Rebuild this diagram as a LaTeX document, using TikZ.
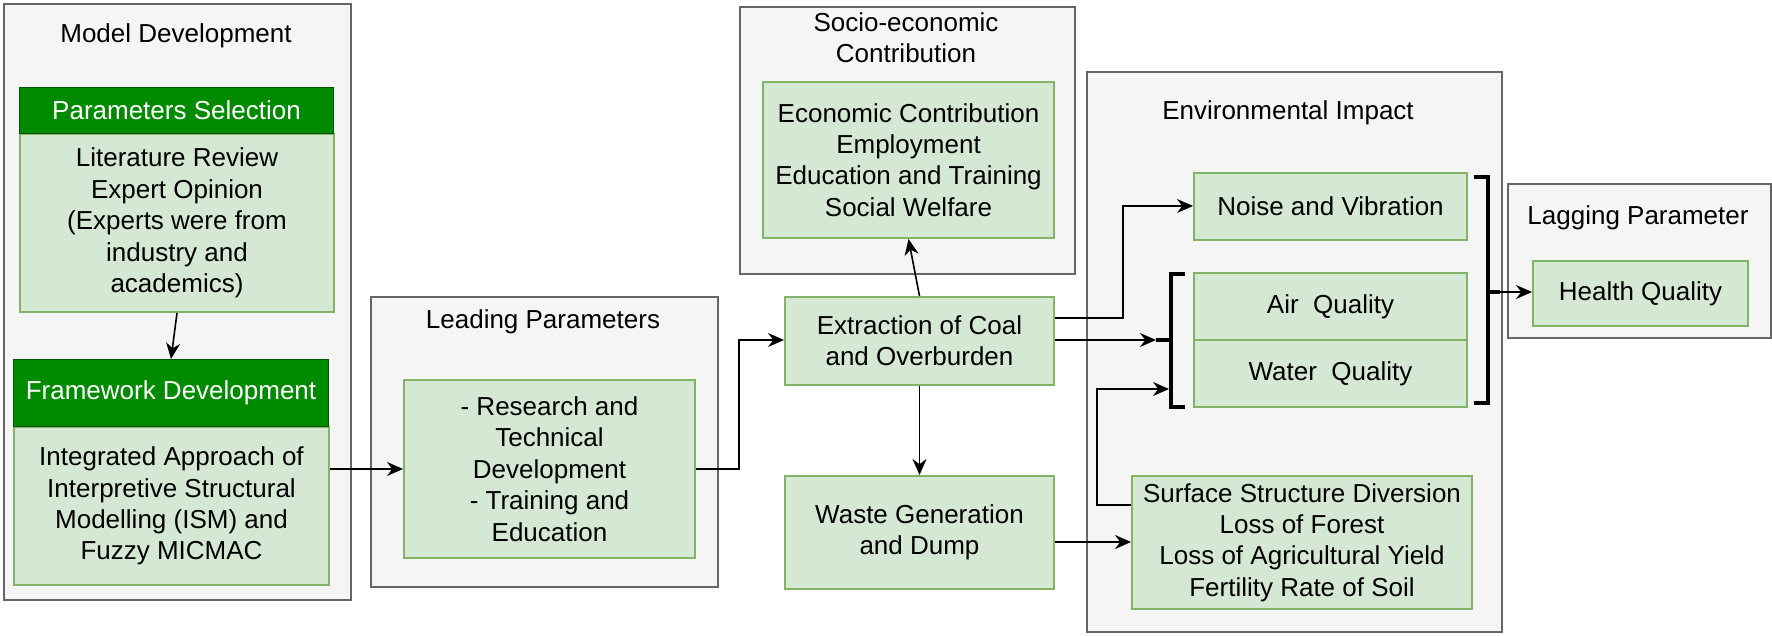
\documentclass[tikz,border=0pt]{standalone}
\usepackage{fontspec}
\setmainfont{Liberation Sans}
\usetikzlibrary{arrows.meta}
\definecolor{outerfill}{HTML}{F5F5F5}
\definecolor{outerdraw}{HTML}{666666}
\definecolor{gfill}{HTML}{D5E8D4}
\definecolor{gdraw}{HTML}{82B366}
\definecolor{hfill}{HTML}{008A00}
\definecolor{hdraw}{HTML}{005700}
\tikzset{
  outer/.style={draw=outerdraw,fill=outerfill,line width=2pt,anchor=north west,inner sep=0pt},
  gbox/.style={draw=gdraw,fill=gfill,line width=2pt,anchor=north west,inner sep=0pt},
  hbox/.style={draw=hdraw,fill=hfill,line width=1pt,anchor=north west,inner sep=0pt},
  txt/.style={align=center,font=\fontsize{26}{31.4}\selectfont},
  arr/.style={line width=1.6pt,-{Stealth[length=16pt,width=14pt]}},
  brk/.style={line width=4.5pt}
}
\newcommand{\bx}[6]{\node[#1,minimum width=#4pt-#2pt,minimum height=#5pt-#3pt] (#6) at (#2pt,-#3pt) {};}
\begin{document}
\begin{tikzpicture}[x=1pt,y=1pt]
\useasboundingbox (0,0) rectangle (1772,-635);
% outer boxes
\bx{outer}{3}{3}{350}{599}{md}
\bx{outer}{370}{296}{717}{586}{lp}
\bx{outer}{739}{6}{1074}{273}{se}
\bx{outer}{1086}{71}{1501}{631}{ei}
\bx{outer}{1507}{183}{1770}{337}{lg}
\node[txt] (mdt) at (176,-36) {Model Development};
\node[txt] (lpt) at (543,-322) {Leading Parameters};
\node[txt] (set) at (906,-38) {Socio-economic\\Contribution};
\node[txt] (eit) at (1288,-113) {Environmental Impact};
\node[txt] (lgt) at (1638,-218) {Lagging Parameter};
% model development
\bx{gbox}{19}{133}{333}{311}{psb}
\bx{hbox}{19}{87}{333}{133}{psh}
\node[txt,text=white] at (psh) {Parameters Selection};
\node[txt] at (psb) {Literature Review\\Expert Opinion\\(Experts were from\\industry and\\academics)};
\bx{gbox}{13}{426}{328}{584}{fdb}
\bx{hbox}{13}{359}{328}{426}{fdh}
\node[txt,text=white] at (fdh) {Framework Development};
\node[txt] at (fdb) {Integrated Approach of\\Interpretive Structural\\Modelling (ISM) and\\Fuzzy MICMAC};
% leading
\bx{gbox}{403}{379}{694}{557}{lpb}
\node[txt] at (lpb) {- Research and\\Technical\\Development\\- Training and\\Education};
% socio
\bx{gbox}{762}{81}{1053}{237}{seb}
\node[txt] at (seb) {Economic Contribution\\Employment\\Education and Training\\Social Welfare};
\bx{gbox}{784}{296}{1053}{384}{ex}
\node[txt] at (ex) {Extraction of Coal\\and Overburden};
\bx{gbox}{784}{475}{1053}{588}{wg}
\node[txt] at (wg) {Waste Generation\\and Dump};
% environment
\bx{gbox}{1193}{172}{1466}{239}{nv}
\node[txt] at (nv) {Noise and Vibration};
\bx{gbox}{1193}{272}{1466}{339}{aq}
\node[txt] at (aq) {Air\ \ Quality};
\bx{gbox}{1193}{339}{1466}{406}{wq}
\node[txt] at (wq) {Water\ \ Quality};
\bx{gbox}{1131}{475}{1471}{608}{ss}
\node[txt] at (ss) {Surface Structure Diversion\\Loss of Forest\\Loss of Agricultural Yield\\Fertility Rate of Soil};
\bx{gbox}{1532}{260}{1747}{325}{hq}
\node[txt] at (hq) {Health Quality};
% brackets
\draw[brk] (1185,-274) -- (1171,-274) -- (1171,-407) -- (1185,-407);
\draw[brk] (1156,-340) -- (1171,-340);
\coordinate (lbk) at (1156,-340);
\coordinate (lbk2) at (1169,-389);
\draw[brk] (1474,-177) -- (1488,-177) -- (1488,-403) -- (1474,-403);
\draw[brk] (1488,-292) -- (1500,-292);
\coordinate (rbk) at (1500,-292);
% arrows
\draw[arr] (psb.south) -- (fdh.north);
\draw[arr] (fdb.east |- 0,-469) -- (lpb.west |- 0,-469);
\draw[arr] (lpb.east |- 0,-469) -- (739,-469) -- (739,-340) -- (ex.west |- 0,-340);
\draw[arr] (ex.north) -- (seb.south);
\draw[arr] (ex.south) -- (wg.north);
\draw[arr] (ex.east |- 0,-318) -- (1123,-318) -- (1123,-206) -- (nv.west |- 0,-206);
\draw[arr] (ex.east |- 0,-340) -- (lbk);
\draw[arr] (wg.east |- 0,-542) -- (ss.west |- 0,-542);
\draw[arr] (ss.west |- 0,-505) -- (1097,-505) -- (1097,-389) -- (lbk2);
\draw[arr] (rbk) -- (hq.west |- 0,-292);
\end{tikzpicture}
\end{document}
